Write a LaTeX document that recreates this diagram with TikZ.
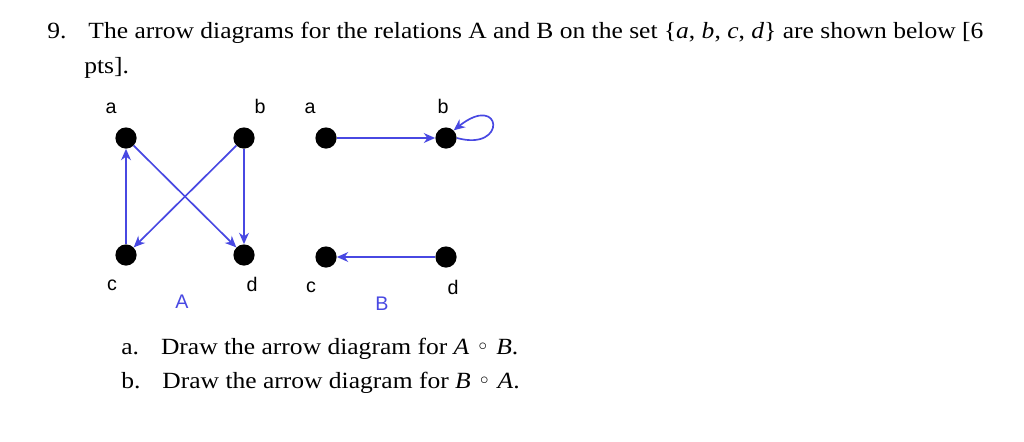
\documentclass[tikz,border=0pt]{standalone}
\usepackage{fontspec}
\setmainfont{Liberation Serif}[FakeStretch=1.1]
\newfontfamily\labelfont{Liberation Sans}
\usetikzlibrary{arrows.meta}
\definecolor{relblue}{RGB}{72,72,226}
\newcommand{\compo}{\hspace{0.4em}\raisebox{0.35ex}{$\scriptstyle\circ$}\hspace{0.4em}}
\begin{document}
\begin{tikzpicture}
	[x=0.025cm,y=-0.025cm,
	 dot/.style={circle,fill=black,inner sep=0pt,minimum size=0.53cm},
	 lbl/.style={font=\labelfont\fontsize{14}{16}\selectfont},
	 rel/.style={font=\labelfont\fontsize{14}{16}\selectfont,text=relblue},
	 txt/.style={anchor=base west,inner sep=0pt,font=\fontsize{16.5}{19}\selectfont},
	 edge/.style={->,relblue,line width=1.2pt,>={Stealth[length=8pt,width=7pt,inset=2.5pt]}}]
	\useasboundingbox (0,0) rectangle (1024,441);
	% text
	\node[txt,name=q9]at(47,38){9.\hspace{0.95em}The arrow diagrams for the relations A and B on the set \{\textit{a}, \textit{b}, \textit{c}, \textit{d}\} are shown below [6};
	\node[txt,name=q9b]at(84,73){pts].};
	\node[txt,name=pa]at(121,354){a.\hspace{0.95em}Draw the arrow diagram for \textit{A}\compo\textit{B}.};
	\node[txt,name=pb]at(121,388){b.\hspace{0.95em}Draw the arrow diagram for \textit{B}\compo\textit{A}.};
	% relation A
	\node[dot,name=Aa]at(126,138){};
	\node[dot,name=Ab]at(244,138){};
	\node[dot,name=Ac]at(126,255){};
	\node[dot,name=Ad]at(244,255){};
	\node[lbl,name=la1]at(111,108){a};
	\node[lbl,name=lb1]at(260,106){b};
	\node[lbl,name=lc1]at(112,285){c};
	\node[lbl,name=ld1]at(252,284){d};
	\node[rel,name=nA]at(182,302){A};
	\draw[edge](Ac) -- (Aa);
	\draw[edge](Aa) -- (Ad);
	\draw[edge](Ab) -- (Ac);
	\draw[edge](Ab) -- (Ad);
	% relation B
	\node[dot,name=Ba]at(326,138){};
	\node[dot,name=Bb]at(446,138){};
	\node[dot,name=Bc]at(326,257){};
	\node[dot,name=Bd]at(446,257){};
	\node[lbl,name=la2]at(310,108){a};
	\node[lbl,name=lb2]at(443,106){b};
	\node[lbl,name=lc2]at(311,287){c};
	\node[lbl,name=ld2]at(453,287){d};
	\node[rel,name=nB]at(382,304){B};
	\draw[edge](Ba) -- (Bb);
	\draw[edge](Bd) -- (Bc);
	\draw[edge](Bb.east) .. controls (508,152) and (502,92) .. (Bb.north east);
\end{tikzpicture}
\end{document}
